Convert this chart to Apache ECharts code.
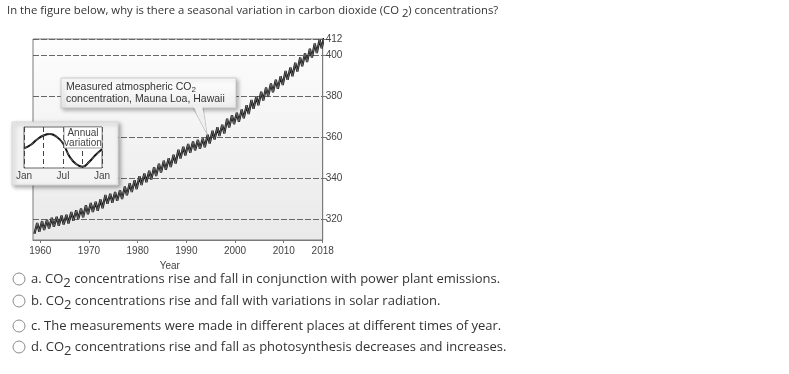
<!DOCTYPE html>
<html><head><meta charset="utf-8">
<script src="https://cdn.jsdelivr.net/npm/echarts@6/dist/echarts.min.js"></script>
<style>html,body{margin:0;padding:0;background:#fff}#c{width:789px;height:374px}</style>
</head><body><div id="c"></div>
<script>
// ---- data ----
const years = [1958,1959,1960,1961,1962,1963,1964,1965,1966,1967,1968,1969,1970,1971,1972,1973,1974,1975,1976,1977,1978,1979,1980,1981,1982,1983,1984,1985,1986,1987,1988,1989,1990,1991,1992,1993,1994,1995,1996,1997,1998,1999,2000,2001,2002,2003,2004,2005,2006,2007,2008,2009,2010,2011,2012,2013,2014,2015,2016,2017,2018];
const mayPeaks = [null,318.3,319.2,319.9,320.8,321.3,321.9,322.3,323.7,324.5,325.4,326.9,328.0,328.6,329.8,332.0,332.5,333.4,334.3,336.1,337.7,339.1,341.1,342.4,343.8,345.5,347.2,348.6,349.9,351.6,354.0,355.5,356.8,358.0,358.8,359.5,361.3,363.3,365.0,366.2,369.1,370.8,372.0,373.6,375.7,378.3,380.0,382.3,384.4,386.3,388.1,389.9,392.4,394.1,396.4,399.0,401.1,403.3,405.8,407.8,409.4];
const octTroughs = [313.0,314.0,314.9,315.6,316.5,317.0,317.6,318.1,319.4,320.2,321.1,322.6,323.7,324.3,325.5,327.7,328.2,329.1,330.0,331.8,333.4,334.8,336.8,338.1,339.5,341.2,342.9,344.3,345.6,347.3,349.7,351.2,352.5,353.7,354.5,355.2,357.0,359.0,360.7,361.9,364.8,366.5,367.7,369.3,371.4,374.0,375.7,378.0,380.1,382.0,383.8,385.6,388.1,389.8,392.1,394.7,396.8,399.0,401.2,403.5,null];
const peakMonthOffset = 0.37, troughMonthOffset = 0.79;
const xTickValues = [1960,1970,1980,1990,2000,2010,2018];
const yTickValues = [320,340,360,380,400];
const yTopLabel = '412';
const xMin = 1958.5, xMax = 2018, yMin = 310, yMax = 408;
// inset: annual variation (relative units), month 0 = Jan ... 12 = Jan
const insetMonths = [0,1,2,3,4,5,6,7,8,9,10,11,12];
const insetValues = [19.7,23,28.5,32.5,34,31.3,24.7,11.5,4,1.3,6,13,18.7];
const insetTickValues = [0,6,12];
const insetTickLabels = ['Jan','Jul','Jan'];

const co2 = [];
years.forEach((y,i)=>{
  if (mayPeaks[i] != null) co2.push([y+peakMonthOffset, mayPeaks[i]]);
  if (octTroughs[i] != null) co2.push([y+troughMonthOffset, octTroughs[i]]);
});
co2.sort((a,b)=>a[0]-b[0]);
const insetData = insetMonths.map((m,i)=>[m, insetValues[i]]);

const F = 'Liberation Sans, Arial, sans-serif';
const OS = '"Open Sans", sans-serif';
const chart = echarts.init(document.getElementById('c'), null, {renderer:'canvas'});

function optText(letter, pre, post, y){
  return [
    {type:'circle', shape:{cx:19, cy:y+1, r:6}, style:{fill:'#fff', stroke:'#8a8a8a', lineWidth:1}, z:20},
    {type:'text', x:31, y:y-5, z:20, style:{
      text: pre===null ? '{n|'+post+'}' : '{n|'+letter+' '+pre+'}{s|2}{n|'+post+'}',
      rich:{n:{fontFamily:OS, fontSize:13, lineHeight:16, verticalAlign:'top', fill:'#333'},
            s:{fontFamily:OS, fontSize:13, lineHeight:16, verticalAlign:'top', padding:[4,0,0,0], fill:'#333'}}
    }}
  ];
}

const option = {
  animation:false,
  grid:[
    {left:33, top:39, width:289.7, height:201, show:true, borderColor:'#7a7a7a', borderWidth:1,
     backgroundColor:{type:'linear',x:0,y:0,x2:0,y2:1,colorStops:[{offset:0,color:'#fdfdfd'},{offset:1,color:'#e9e9e9'}]}, z:0},
    {left:24, top:127, width:78, height:41, show:true, borderColor:'#666', borderWidth:1, backgroundColor:'#fff', z:8}
  ],
  xAxis:[
    {type:'value', gridIndex:0, min:xMin, max:xMax,
     name:'Year', nameLocation:'middle', nameGap:19,
     nameTextStyle:{fontFamily:F, fontSize:10, color:'#444', padding:[0,16,0,0]},
     axisLine:{show:true, lineStyle:{color:'#7a7a7a'}},
     axisTick:{show:true, length:3, customValues:xTickValues, lineStyle:{color:'#777'}},
     axisLabel:{customValues:xTickValues, fontFamily:F, fontSize:10, color:'#444', margin:6, formatter:v=>String(v)},
     splitLine:{show:false}},
    {type:'value', gridIndex:1, min:0, max:12, interval:3,
     axisLine:{show:false}, axisTick:{show:false},
     axisLabel:{customValues:insetTickValues, fontFamily:F, fontSize:10, color:'#444', margin:3,
       formatter:v=>insetTickLabels[insetTickValues.indexOf(v)]},
     splitLine:{show:true, lineStyle:{type:[5,3], color:'#444', width:1}}, z:9}
  ],
  yAxis:[
    {type:'value', gridIndex:0, position:'right', min:yMin, max:yMax, interval:10,
     axisLine:{show:true, lineStyle:{color:'#7a7a7a'}},
     axisTick:{show:true, length:4, customValues:yTickValues.concat([yMax]), lineStyle:{color:'#777'}},
     axisLabel:{customValues:yTickValues.concat([yMax]), fontFamily:F, fontSize:10, color:'#444', margin:3,
       formatter:v=> v>=yMax ? yTopLabel : String(v)},
     splitLine:{show:true, lineStyle:{type:[6,2], color:'#666', width:1}}},
    {type:'value', gridIndex:1, min:0, max:41, show:false, splitLine:{show:false}}
  ],
  series:[
    {type:'line', xAxisIndex:0, yAxisIndex:0, data:co2, symbol:'none', clip:true,
     lineStyle:{color:'#111', width:2.2}, z:2},
    {type:'line', xAxisIndex:0, yAxisIndex:0, data:co2, symbol:'none', clip:true,
     lineStyle:{color:'#9a9a9a', width:0.6}, z:3},
    {type:'line', xAxisIndex:1, yAxisIndex:1, data:insetData, symbol:'none', smooth:true,
     lineStyle:{color:'#111', width:2}, z:10},
    {type:'line', xAxisIndex:1, yAxisIndex:1, data:insetData, symbol:'none', smooth:true,
     lineStyle:{color:'#999', width:0.6, type:[4,3]}, z:11}
  ],
  graphic:[
    {type:'text', x:7, y:5, z:20, style:{
      text:'{n|In the figure below, why is there a seasonal variation in carbon dioxide (CO }{s|2}{n|) concentrations?}',
      rich:{n:{fontFamily:OS, fontSize:11.3, lineHeight:14, verticalAlign:'top', fill:'#333'},
            s:{fontFamily:OS, fontSize:11.3, lineHeight:14, verticalAlign:'top', padding:[3,0,0,0], fill:'#333'}}}},
    // inset box
    {type:'rect', shape:{x:12, y:122, width:106, height:63}, z:7,
     style:{fill:'#f3f3f3', stroke:'#d8d8d8', lineWidth:1, shadowBlur:4, shadowOffsetX:2, shadowOffsetY:2, shadowColor:'rgba(0,0,0,0.35)'}},
    {type:'rect', shape:{x:64, y:127, width:38, height:21}, z:12, style:{fill:'#fff', stroke:'#888', lineWidth:0.8}},
    {type:'text', x:83, y:128, z:13, style:{text:'Annual\nvariation', fontFamily:F, fontSize:10, lineHeight:10, align:'center', fill:'#444'}},
    // callout
    {type:'polygon', shape:{points:[[192,106],[203,106],[207,134]]}, z:14,
     style:{fill:'#f1f1f1', stroke:'#bbb', lineWidth:0.8}},
    {type:'rect', shape:{x:61, y:78, width:175, height:30}, z:15,
     style:{fill:{type:'linear',x:0,y:0,x2:0,y2:1,colorStops:[{offset:0,color:'#ffffff'},{offset:1,color:'#ededed'}]},
            stroke:'#c4c4c4', lineWidth:0.8, shadowBlur:4, shadowOffsetX:2, shadowOffsetY:2, shadowColor:'rgba(0,0,0,0.3)'}},
    {type:'polygon', shape:{points:[[193,105],[202,105],[206,131]]}, z:16, style:{fill:'#efefef'}},
    {type:'text', x:66, y:82, z:17, style:{
      text:'{a|Measured atmospheric CO}{b|2}\n{a|concentration, Mauna Loa, Hawaii}',
      rich:{a:{fontFamily:F, fontSize:10.5, lineHeight:12, verticalAlign:'top', fill:'#333'},
            b:{fontFamily:F, fontSize:8, lineHeight:12, verticalAlign:'top', padding:[4,0,0,0], fill:'#333'}}}},
  ]
    .concat(optText('a.','CO',' concentrations rise and fall in conjunction with power plant emissions.',278))
    .concat(optText('b.','CO',' concentrations rise and fall with variations in solar radiation.',300))
    .concat(optText('c.',null,'c. The measurements were made in different places at different times of year.',325))
    .concat(optText('d.','CO',' concentrations rise and fall as photosynthesis decreases and increases.',346))
};
chart.setOption(option);
</script>
</body></html>
